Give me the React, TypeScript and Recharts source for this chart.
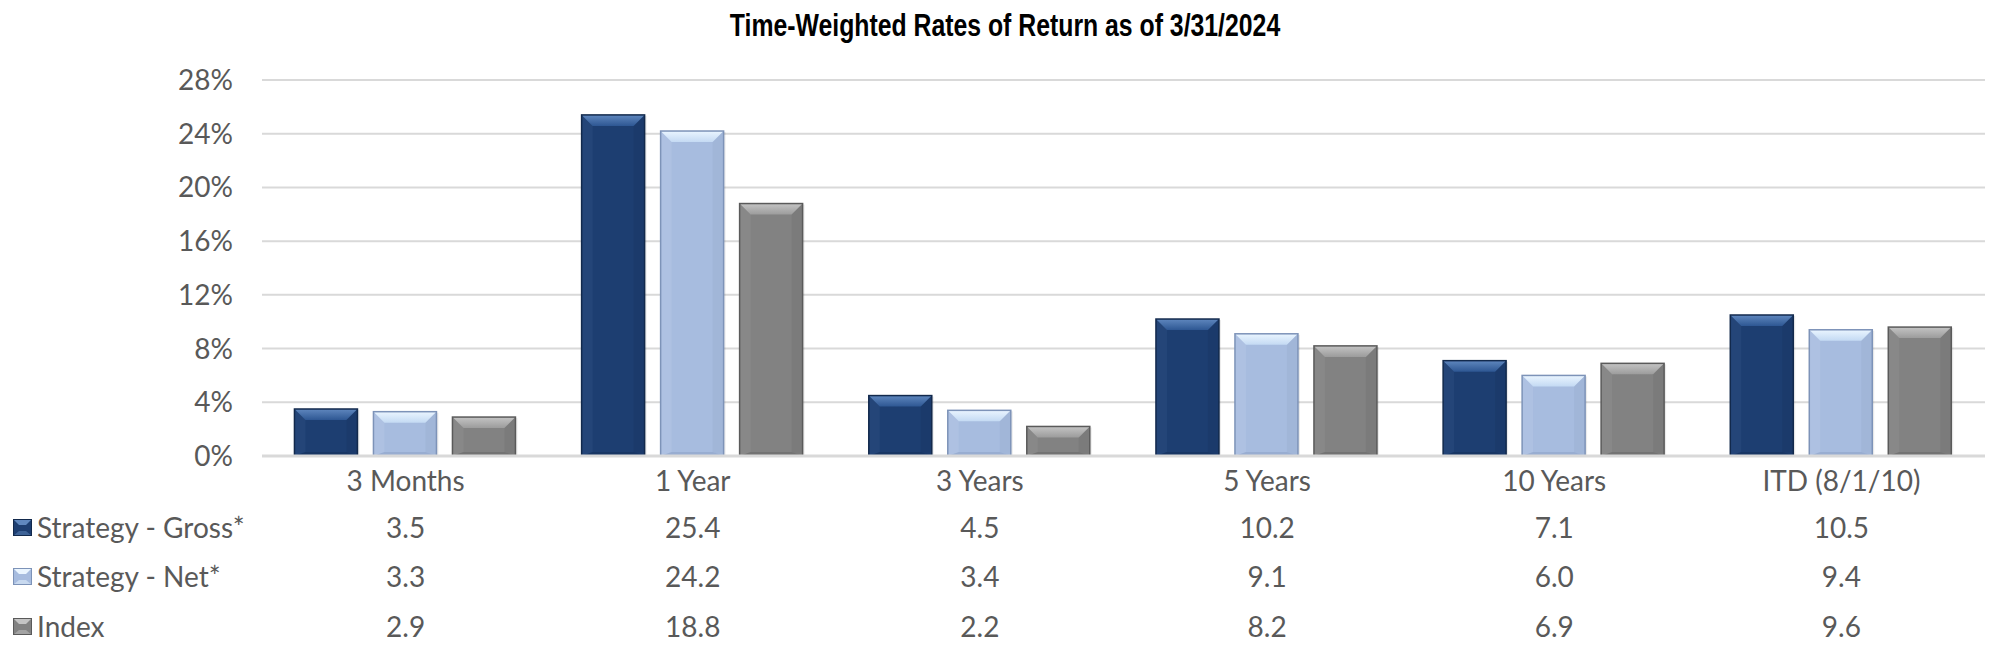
import { Bar, BarChart, CartesianGrid, XAxis, YAxis } from 'recharts';

const periods = ['3 Months', '1 Year', '3 Years', '5 Years', '10 Years', 'ITD (8/1/10)'];
const grossReturns = [3.5, 25.4, 4.5, 10.2, 7.1, 10.5];
const netReturns = [3.3, 24.2, 3.4, 9.1, 6.0, 9.4];
const indexReturns = [2.9, 18.8, 2.2, 8.2, 6.9, 9.6];
const yTicks = [0, 4, 8, 12, 16, 20, 24, 28];

const series = [
  { key: 'gross', name: 'Strategy - Gross*', values: grossReturns, fill: '#1D3E71', light: '#5F87BE', mid: '#2E5793', dark: '#12294C' },
  { key: 'net', name: 'Strategy - Net*', values: netReturns, fill: '#A7BCDF', light: '#EAF5FF', mid: '#C4DAF3', dark: '#7D93B8' },
  { key: 'index', name: 'Index', values: indexReturns, fill: '#828282', light: '#C4C4C4', mid: '#9C9C9C', dark: '#5A5A5A' },
];

const data = periods.map((period, i) => ({
  period,
  gross: grossReturns[i],
  net: netReturns[i],
  index: indexReturns[i],
}));

const FONT = 'Lato, "Open Sans", sans-serif';
const TEXT = '#595959';
const ROW_Y = [24, 71, 120, 170];

type S = (typeof series)[number];

function BevelBar(props: any) {
  const { x, y, width: w, height: h, s } = props as { x: number; y: number; width: number; height: number; s: S };
  if (!h || h <= 0) return null;
  const b = Math.min(11, h / 2);
  const bb = Math.min(4, h / 4);
  const gid = `bevel-${s.key}`;
  return (
    <g>
      <defs>
        <linearGradient id={gid} x1="0" y1="0" x2="0" y2="1">
          <stop offset="0%" stopColor={s.light} />
          <stop offset="100%" stopColor={s.mid} />
        </linearGradient>
      </defs>
      <rect x={x + 2} y={y + 1} width={w} height={h} fill="#000" opacity={0.08} />
      <rect x={x} y={y} width={w} height={h} fill={s.fill} />
      <polygon points={`${x},${y} ${x + w},${y} ${x + w - b},${y + b} ${x + b},${y + b}`} fill={`url(#${gid})`} />
      <polygon points={`${x},${y} ${x + b},${y + b} ${x + b},${y + h - bb} ${x},${y + h}`} fill={s.light} opacity={0.1} />
      <polygon points={`${x + w},${y} ${x + w - b},${y + b} ${x + w - b},${y + h - bb} ${x + w},${y + h}`} fill={s.dark} opacity={0.15} />
      <polygon points={`${x},${y + h} ${x + b},${y + h - bb} ${x + w - b},${y + h - bb} ${x + w},${y + h}`} fill={s.dark} opacity={0.35} />
      <rect x={x} y={y} width={w} height={h} fill="none" stroke={s.dark} strokeWidth={1.5} />
    </g>
  );
}

function TableTick(props: any) {
  const { x, y, payload } = props;
  const i = payload.index;
  return (
    <g fontFamily={FONT} fontSize={28} fill={TEXT} textAnchor="middle">
      <text x={x} y={y + ROW_Y[0]} dominantBaseline="central">{payload.value}</text>
      {series.map((s, r) => (
        <text key={s.key} x={x} y={y + ROW_Y[r + 1]} dominantBaseline="central">
          {s.values[i].toFixed(1)}
        </text>
      ))}
    </g>
  );
}

function LegendKey({ s }: { s: S }) {
  return (
    <svg width={19} height={17} style={{ display: 'block' }}>
      <rect x={0} y={0} width={19} height={17} fill={s.fill} />
      <polygon points="0,0 19,0 13,6 6,6" fill={s.light} />
      <polygon points="0,17 19,17 13,12 6,12" fill={s.light} opacity={0.5} />
      <rect x={0.5} y={0.5} width={18} height={16} fill="none" stroke={s.dark} strokeWidth={1} />
    </svg>
  );
}

export default function App() {
  return (
    <div style={{ position: 'absolute', left: 0, top: 0, width: 2004, height: 652, background: '#fff' }}>
      <div
        style={{
          position: 'absolute',
          left: 0,
          top: 6,
          width: 2010,
          textAlign: 'center',
          fontFamily: '"Liberation Sans", Arial, sans-serif',
          fontWeight: 'bold',
          fontSize: 31,
          lineHeight: '40px',
          color: '#000',
          transform: 'scaleX(0.8)',
          transformOrigin: '1005px 0',
        }}
      >
        Time-Weighted Rates of Return as of 3/31/2024
      </div>

      <BarChart
        width={2004}
        height={652}
        data={data}
        margin={{ top: 80, right: 19, left: 0, bottom: 0 }}
        barGap={16}
        barCategoryGap="11.3%"
      >
        <CartesianGrid vertical={false} stroke="#D9D9D9" strokeWidth={2} />
        <XAxis
          dataKey="period"
          height={196}
          interval={0}
          tickLine={false}
          tickSize={0}
          tickMargin={0}
          axisLine={{ stroke: '#D9D9D9', strokeWidth: 3 }}
          tick={<TableTick />}
        />
        <YAxis
          domain={[0, 28]}
          ticks={yTicks}
          width={262}
          axisLine={false}
          tickLine={false}
          tickSize={0}
          tickMargin={29}
          tickFormatter={(v: number) => `${v}%`}
          tick={{ fill: TEXT, fontSize: 28, fontFamily: FONT }}
        />
        {series.map((s) => (
          <Bar
            key={s.key}
            dataKey={s.key}
            name={s.name}
            fill={s.fill}
            isAnimationActive={false}
            shape={(p: any) => <BevelBar {...p} s={s} />}
          />
        ))}
      </BarChart>

      <div style={{ position: 'absolute', left: 13, top: 456 + ROW_Y[1] - 25, fontFamily: FONT, fontSize: 28, color: TEXT }}>
        {series.map((s, r) => (
          <div
            key={s.key}
            style={{
              position: 'absolute',
              top: ROW_Y[r + 1] - ROW_Y[1],
              height: 50,
              display: 'flex',
              alignItems: 'center',
              whiteSpace: 'nowrap',
            }}
          >
            <LegendKey s={s} />
            <span style={{ marginLeft: 5 }}>{s.name}</span>
          </div>
        ))}
      </div>
    </div>
  );
}
